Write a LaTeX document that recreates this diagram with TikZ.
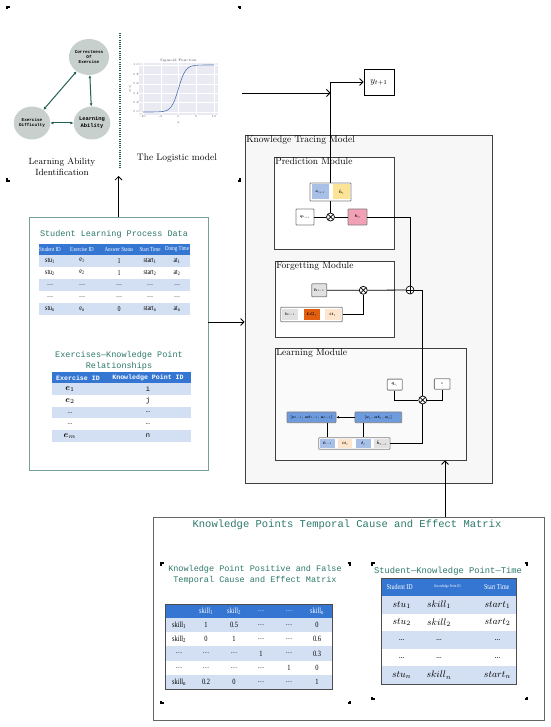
\RequirePackage{fix-cm}
\documentclass[tikz,border=0pt]{standalone}
\usepackage{fontspec}
\usepackage{bm}
\newfontfamily\monofont{Liberation Mono}
\newfontfamily\cellfont[FakeStretch=0.8]{Liberation Serif}
\usetikzlibrary{arrows.meta,shapes.geometric}
\tikzset{>={Straight Barb[length=3.5pt,width=7pt]}}
\definecolor{headblue}{RGB}{52,118,210}
\definecolor{rowblue}{RGB}{211,223,242}
\definecolor{cgray}{RGB}{200,208,205}
\definecolor{tealdark}{RGB}{35,95,85}
\definecolor{tealtext}{RGB}{45,120,105}
\definecolor{boxteal}{RGB}{120,160,155}
\definecolor{plotbg}{RGB}{234,234,242}
\definecolor{curveblue}{RGB}{76,114,176}
\definecolor{segblue}{RGB}{168,192,232}
\definecolor{segyellow}{RGB}{252,228,150}
\definecolor{segpink}{RGB}{242,160,180}
\definecolor{seggray}{RGB}{225,225,225}
\definecolor{segorange}{RGB}{225,95,15}
\definecolor{segpeach}{RGB}{253,230,205}
\definecolor{seqblue}{RGB}{110,155,222}
\newcommand{\sbs}[1]{\textsubscript{#1}}
\tikzstyle{concept}=[ellipse,fill=cgray,inner sep=0pt,align=center,font=\monofont\bfseries\fontsize{4.3}{5.2}\selectfont]
\tikzstyle{rel}=[draw=tealdark,line width=1pt,{Latex[length=3pt,width=3pt]}-{Latex[length=3pt,width=3pt]}]
\tikzstyle{caption}=[align=center,font=\fontsize{9}{11}\selectfont]
\tikzstyle{module}=[rectangle,draw=black!75,line width=0.8pt,fill=white,inner sep=0pt]
\tikzstyle{modlabel}=[anchor=north west,inner sep=1.5pt,font=\fontsize{9.5}{11}\selectfont]
\tikzstyle{cell}=[rectangle,draw=black!50,line width=0.8pt,rounded corners=0.8pt,inner sep=0pt,fill=white,font=\fontsize{4}{4}\selectfont]
\tikzstyle{seg}=[rectangle,inner sep=0pt,font=\fontsize{3.8}{4}\selectfont]
\tikzstyle{wire}=[line width=0.8pt]
\tikzstyle{mult}=[circle,draw,line width=0.7pt,minimum size=8pt,inner sep=0pt,fill=white,path picture={\draw[line width=0.7pt] (path picture bounding box.north west) -- (path picture bounding box.south east) (path picture bounding box.north east) -- (path picture bounding box.south west);}]
\tikzstyle{addop}=[circle,draw,line width=0.7pt,minimum size=8pt,inner sep=0pt,fill=white,path picture={\draw[line width=0.7pt] (path picture bounding box.north) -- (path picture bounding box.south) (path picture bounding box.east) -- (path picture bounding box.west);}]
\tikzstyle{title}=[text=tealtext,align=center,inner sep=0pt,font=\monofont\fontsize{8.5}{11}\selectfont]
\tikzstyle{headtxt}=[text=white,inner sep=0pt,font=\cellfont\fontsize{6.2}{6.2}\selectfont]
\tikzstyle{celltxt}=[inner sep=0pt,font=\cellfont\fontsize{7.5}{7.5}\selectfont]
\tikzstyle{tick}=[inner sep=0.5pt,font=\fontsize{3}{3}\selectfont,text=black!70]
\tikzstyle{crop}=[line width=1.2pt]

\begin{document}
\begin{tikzpicture}[x=1pt,y=-1pt]
	\useasboundingbox (0,0) rectangle (550,727);

	% crop marks
	\foreach \cx/\cy/\dx/\dy in {7/7/1/1,240/7/-1/1,7/181/1/-1,240/181/-1/-1,161/563/1/1,350/563/-1/1,161/703/1/-1,350/703/-1/-1,372/563/1/1,527/563/-1/1,372/699/1/-1,527/699/-1/-1}
		\draw[crop] ({\cx+2.5*\dx},\cy) -- (\cx,\cy) -- (\cx,{\cy+2.5*\dy});

	% learning ability identification
	\node[concept,minimum width=31pt,minimum height=36pt] (correct) at (89,57) {Correctness\\Of\\Exercise};
	\node[concept,minimum width=30pt,minimum height=33pt] (diffic) at (32,123) {Exercise\\Difficulty};
	\node[concept,minimum width=31pt,minimum height=33pt,font=\monofont\bfseries\fontsize{5.4}{7}\selectfont] (ability) at (92,123) {Learning\\Ability};
	\draw[rel] (diffic) -- (correct);
	\draw[rel] (correct) -- (ability);
	\draw[rel] (diffic) -- (ability);
	\node[caption] (lailabel) at (62,167) {Learning Ability\\Identification};

	\coordinate (dtop) at (120,33);
	\coordinate (dbot) at (120,168);
	\draw[draw=tealdark,line width=1.1pt,dash pattern=on 1pt off 1.2pt] (dtop) -- (dbot);

	% logistic model
	\begin{scope}[shift={(178.5,112)},x=3.55pt,y=47pt]
		\fill[plotbg] (-11,-0.06) rectangle (11,1.05);
		\foreach \gx in {-10,-5,0,5,10}
			\draw[white,line width=0.4pt] (\gx,-0.06) -- (\gx,1.05);
		\foreach \gy in {0,0.2,0.4,0.6,0.8,1}
			\draw[white,line width=0.4pt] (-11,\gy) -- (11,\gy);
		\draw[curveblue,line width=0.6pt] plot[domain=-10:10,samples=80,smooth] (\x,{1/(1+exp(min(-\x,9)))});
		\foreach \gx in {-10,-5,0,5,10}
			\node[tick,below] (xt\gx) at (\gx,-0.06) {\gx};
		\foreach \gy in {0.0,0.2,0.4,0.6,0.8,1.0}
			\node[tick,left] (yt\gy) at (-11,\gy) {\gy};
		\node[tick,above,font=\fontsize{3.5}{4}\selectfont] (plottitle) at (0,1.05) {Sigmoid Function};
		\node[tick] (xlab) at (0,-0.24) {x};
		\node[tick,rotate=90] (ylab) at (-13.6,0.5) {$\sigma(x)$};
	\end{scope}
	\node[caption,font=\fontsize{9.5}{11}\selectfont] (logitlabel) at (177,158) {The Logistic model};

	% knowledge tracing model
	\node[module,fill=black!3,minimum width=247pt,minimum height=348pt] (ktm) at (368.5,309) {};
	\node[modlabel] (ktmlabel) at (ktm.north west) {Knowledge Tracing Model};
	\node[draw,line width=0.8pt,minimum width=30pt,minimum height=26pt,inner sep=0pt,font=\fontsize{9}{10}\selectfont] (ybox) at (379,82) {$y_{t+1}$};

	\node[module,minimum width=120pt,minimum height=92pt] (pred) at (334,203) {};
	\node[modlabel] (predlabel) at (pred.north west) {Prediction Module};
	\node[module,minimum width=119pt,minimum height=76pt] (forget) at (334.5,299) {};
	\node[modlabel] (forgetlabel) at (forget.north west) {Forgetting Module};
	\node[module,fill=black!2,minimum width=191pt,minimum height=112pt] (learn) at (370.5,404) {};
	\node[modlabel] (learnlabel) at (learn.north west) {Learning Module};

	% prediction module
	\node[cell,minimum width=41pt,minimum height=18pt] (predPair) at (330.5,192) {};
	\node[seg,fill=segblue,minimum width=17pt,minimum height=15pt] (eNext) at (320,192) {$\bm{e}_{t+1}$};
	\node[seg,fill=segyellow,minimum width=17pt,minimum height=15pt] (hbarT) at (341.5,192) {$\tilde{\bm{h}}_t$};
	\node[cell,minimum width=18pt,minimum height=16pt] (qNext) at (305,217) {$\bm{q}_{e_{t+1}}$};
	\node[mult] (otimes1) at (330.5,217) {};
	\node[cell,fill=segpink,minimum width=19pt,minimum height=16pt] (hT) at (357.5,217) {$\bm{h}_t$};
	\coordinate (hcorner) at (410,217);
	\node[addop] (oplus) at (410,290) {};

	% forgetting module
	\node[cell,fill=seggray,minimum width=15pt,minimum height=13pt] (hPrev) at (319.3,290.3) {$\bm{h}_{t-1}$};
	\node[mult] (otimes2) at (363.3,290.3) {};
	\node[cell,minimum width=61.6pt,minimum height=14.4pt] (fTriple) at (311.5,314.5) {};
	\node[seg,fill=seggray,minimum width=16pt,minimum height=11pt] (hPrevB) at (290,314.5) {$\bm{h}_{t-1}$};
	\node[seg,fill=segorange,minimum width=16pt,minimum height=11pt] (lgT) at (311.5,314.5) {$\bm{LG}_t$};
	\node[seg,fill=segpeach,minimum width=16pt,minimum height=11pt] (itT) at (332.5,314.5) {$\bm{it}_t$};

	% learning module
	\node[cell,minimum width=15pt,minimum height=11pt] (qE) at (394.8,384.6) {$\bm{q}_{e_t}$};
	\node[cell,minimum width=15.7pt,minimum height=10.6pt] (cBox) at (442.2,384) {$c$};
	\node[mult] (otimes3) at (422.7,400) {};
	\node[cell,fill=seqblue,minimum width=49pt,minimum height=10.7pt] (seqPrev) at (311.5,417.3) {$[\bm{e}_{t-1},\bm{at}_{t-1},\bm{a}_{t-1}]$};
	\node[cell,fill=seqblue,minimum width=46.7pt,minimum height=10.7pt] (seqCur) at (378.3,417.3) {$[\bm{e}_t,\bm{at}_t,\bm{a}_t]$};
	\node[cell,minimum width=71.3pt,minimum height=11.6pt] (lQuad) at (354.3,443.5) {};
	\node[seg,fill=segblue,minimum width=14.5pt,minimum height=9pt] (lPrevSeg) at (327.3,443.5) {$\bm{\ell}_{t-1}$};
	\node[seg,fill=segpeach,minimum width=14.5pt,minimum height=9pt] (itSeg) at (345.1,443.5) {$\bm{it}_t$};
	\node[seg,fill=segblue,minimum width=14.5pt,minimum height=9pt] (lCurSeg) at (363.3,443.5) {$\bm{\ell}_t$};
	\node[seg,fill=seggray,minimum width=14.5pt,minimum height=9pt] (hTilSeg) at (381.6,443.5) {$\tilde{\bm{h}}_{t-1}$};

	% connectors
	\coordinate (hstart) at (242,93);
	\coordinate (ytop) at (330.5,82);
	\draw[wire,->] (hstart) -- (hstart -| ytop);
	\draw[wire,->] (ytop) -- (ybox);
	\draw[wire] (ytop) -- (predPair.north -| ytop);
	\draw[wire] (predPair) -- (otimes1);
	\draw[wire] (qNext) -- (otimes1) -- (hT);
	\draw[wire] (hT) -- (hcorner) -- (oplus);
	\draw[wire] (hPrev) -- (otimes2) -- (oplus);
	\draw[wire] (fTriple) -| (otimes2);
	\draw[wire] (oplus) -| (otimes3);
	\draw[wire] (lQuad) -| (otimes3);
	\draw[wire] (qE) |- (otimes3);
	\draw[wire] (cBox) |- (otimes3);
	\draw[wire,-{Latex[length=2.5pt,width=2.5pt]}] (seqCur) -- (seqPrev);
	\draw[wire] (seqPrev.south -| lPrevSeg) -- (lQuad.north -| lPrevSeg);
	\draw[wire] (seqCur.south -| lCurSeg) -- (lQuad.north -| lCurSeg);

	% student learning process data
	\node[draw=boxteal,line width=0.9pt,minimum width=179pt,minimum height=253pt] (sdata) at (118.5,344.3) {};
	\node[title] (sdtitle) at (114,234) {Student Learning Process Data};
	\fill[headblue] (39,244) rectangle (190,254.5);
	\foreach \r in {1,3,5}
		\fill[rowblue] (39,{254.5+(\r-1)*12.1}) rectangle (190,{254.5+\r*12.1});
	\foreach \h/\hx [count=\i] in {Student ID/50,Exercise ID/82,Answer Status/119,Start Time/150,Doing Time/177}
		\node[headtxt] (sdh\i) at (\hx,249.3) {\h};
	\foreach \ca/\cb/\cc/\cd/\ce [count=\r] in {stu\sbs{1}/e\sbs{1}/1/start\sbs{1}/at\sbs{1},stu\sbs{2}/e\sbs{2}/1/start\sbs{2}/at\sbs{2},\ldots/\ldots/\ldots/\ldots/\ldots,\ldots/\ldots/\ldots/\ldots/\ldots,stu\sbs{n}/e\sbs{n}/0/start\sbs{n}/at\sbs{n}}{
		\node[celltxt] (sd\r-a) at (50,{254.5+(\r-0.5)*12.1}) {\ca};
		\node[celltxt] (sd\r-b) at (82,{254.5+(\r-0.5)*12.1}) {\cb};
		\node[celltxt] (sd\r-c) at (119,{254.5+(\r-0.5)*12.1}) {\cc};
		\node[celltxt] (sd\r-d) at (150,{254.5+(\r-0.5)*12.1}) {\cd};
		\node[celltxt] (sd\r-e) at (177,{254.5+(\r-0.5)*12.1}) {\ce};
	}

	\node[title] (ektitle) at (119,361) {Exercises—Knowledge Point\\Relationships};
	\fill[headblue] (52,372) rectangle (191,383.3);
	\foreach \r in {1,3,5}
		\fill[rowblue] (52,{383.3+(\r-1)*11.7}) rectangle (191,{383.3+\r*11.7});
	\node[headtxt,font=\monofont\bfseries\fontsize{6.6}{7}\selectfont] (ekh1) at (78,377.8) {Exercise ID};
	\node[headtxt,font=\monofont\bfseries\fontsize{6.6}{7}\selectfont] (ekh2) at (148,377.8) {Knowledge Point ID};
	\foreach \ca/\cb [count=\r] in {{$\bm{e}_1$}/i,{$\bm{e}_2$}/j,\ldots/\ldots,\ldots/\ldots,{$\bm{e}_m$}/n}{
		\node[celltxt,font=\fontsize{8.5}{8.5}\selectfont] (ek\r-a) at (70,{383.3+(\r-0.5)*11.7}) {\ca};
		\node[celltxt,font=\monofont\fontsize{7}{7}\selectfont] (ek\r-b) at (148,{383.3+(\r-0.5)*11.7}) {\cb};
	}

	\coordinate (sOut) at (208,322);
	\coordinate (upTip) at (118.5,176);
	\draw[wire,->] (sOut) -- (sOut -| ktm.west);
	\draw[wire,->] (sdata.north) -- (upTip);

	% knowledge points temporal cause and effect matrix
	\node[draw=black!60,line width=0.7pt,minimum width=391pt,minimum height=203pt] (kmat) at (348.5,618.5) {};
	\node[title,font=\monofont\fontsize{10.5}{12}\selectfont] (kmtitle) at (347,525) {Knowledge Points Temporal Cause and Effect Matrix};
	\coordinate (mIn) at (445,517);
	\draw[wire,->] (mIn) -- (mIn |- learn.south);

	\node[title] (mattitle) at (255,574.5) {Knowledge Point Positive and False\\Temporal Cause and Effect Matrix};
	\fill[headblue] (165,604) rectangle (332,618);
	\foreach \r in {1,3,5}
		\fill[rowblue] (165,{618+(\r-1)*14.2}) rectangle (332,{618+\r*14.2});
	\foreach \h/\hx [count=\i] in {skill\sbs{1}/206,skill\sbs{2}/234,\ldots/261,\ldots/289,skill\sbs{n}/317}
		\node[headtxt,font=\cellfont\fontsize{8}{8}\selectfont] (mh\i) at (\hx,611) {\h};
	\foreach \ca/\cb/\cc/\cd/\ce/\cf [count=\r] in {skill\sbs{1}/1/0.5/\ldots/\ldots/0,skill\sbs{2}/0/1/\ldots/\ldots/0.6,\ldots/\ldots/\ldots/1/\ldots/0.3,\ldots/\ldots/\ldots/\ldots/1/0,skill\sbs{n}/0.2/0/\ldots/\ldots/1}{
		\node[celltxt,font=\cellfont\fontsize{8}{8}\selectfont] (m\r-a) at (179,{618+(\r-0.5)*14.2}) {\ca};
		\node[celltxt,font=\cellfont\fontsize{8}{8}\selectfont] (m\r-b) at (206,{618+(\r-0.5)*14.2}) {\cb};
		\node[celltxt,font=\cellfont\fontsize{8}{8}\selectfont] (m\r-c) at (234,{618+(\r-0.5)*14.2}) {\cc};
		\node[celltxt,font=\cellfont\fontsize{8}{8}\selectfont] (m\r-d) at (261,{618+(\r-0.5)*14.2}) {\cd};
		\node[celltxt,font=\cellfont\fontsize{8}{8}\selectfont] (m\r-e) at (289,{618+(\r-0.5)*14.2}) {\ce};
		\node[celltxt,font=\cellfont\fontsize{8}{8}\selectfont] (m\r-f) at (317,{618+(\r-0.5)*14.2}) {\cf};
	}
	\draw[black!70,line width=0.8pt] (165,604) rectangle (332,689);

	\node[title,font=\monofont\fontsize{8.8}{11}\selectfont] (skttitle) at (448,571) {Student—Knowledge Point—Time};
	\fill[headblue] (381,578) rectangle (516,596);
	\foreach \r in {1,3,5}
		\fill[rowblue] (381,{596+(\r-1)*17.6}) rectangle (516,{596+\r*17.6});
	\node[headtxt,font=\cellfont\fontsize{7.5}{7.5}\selectfont] (skh1) at (399.7,587) {Student ID};
	\node[headtxt,font=\cellfont\fontsize{4}{4}\selectfont] (skh2) at (447.5,587) {Knowledge Point ID};
	\node[headtxt,font=\cellfont\fontsize{7.5}{7.5}\selectfont] (skh3) at (496.7,587) {Start Time};
	\foreach \ca/\cb/\cc [count=\r] in {{$stu_1$}/{$skill_1$}/{$start_1$},{$stu_2$}/{$skill_2$}/{$start_2$},\ldots/\ldots/\ldots,\ldots/\ldots/\ldots,{$stu_n$}/{$skill_n$}/{$start_n$}}{
		\node[celltxt,font=\fontsize{9.5}{9.5}\selectfont] (sk\r-a) at (401.7,{596+(\r-0.5)*17.6}) {\ca};
		\node[celltxt,font=\fontsize{9.5}{9.5}\selectfont] (sk\r-b) at (439,{596+(\r-0.5)*17.6}) {\cb};
		\node[celltxt,font=\fontsize{9.5}{9.5}\selectfont] (sk\r-c) at (497.5,{596+(\r-0.5)*17.6}) {\cc};
	}
	\draw[black!70,line width=0.8pt] (381,578) rectangle (516,684);
\end{tikzpicture}
\end{document}
